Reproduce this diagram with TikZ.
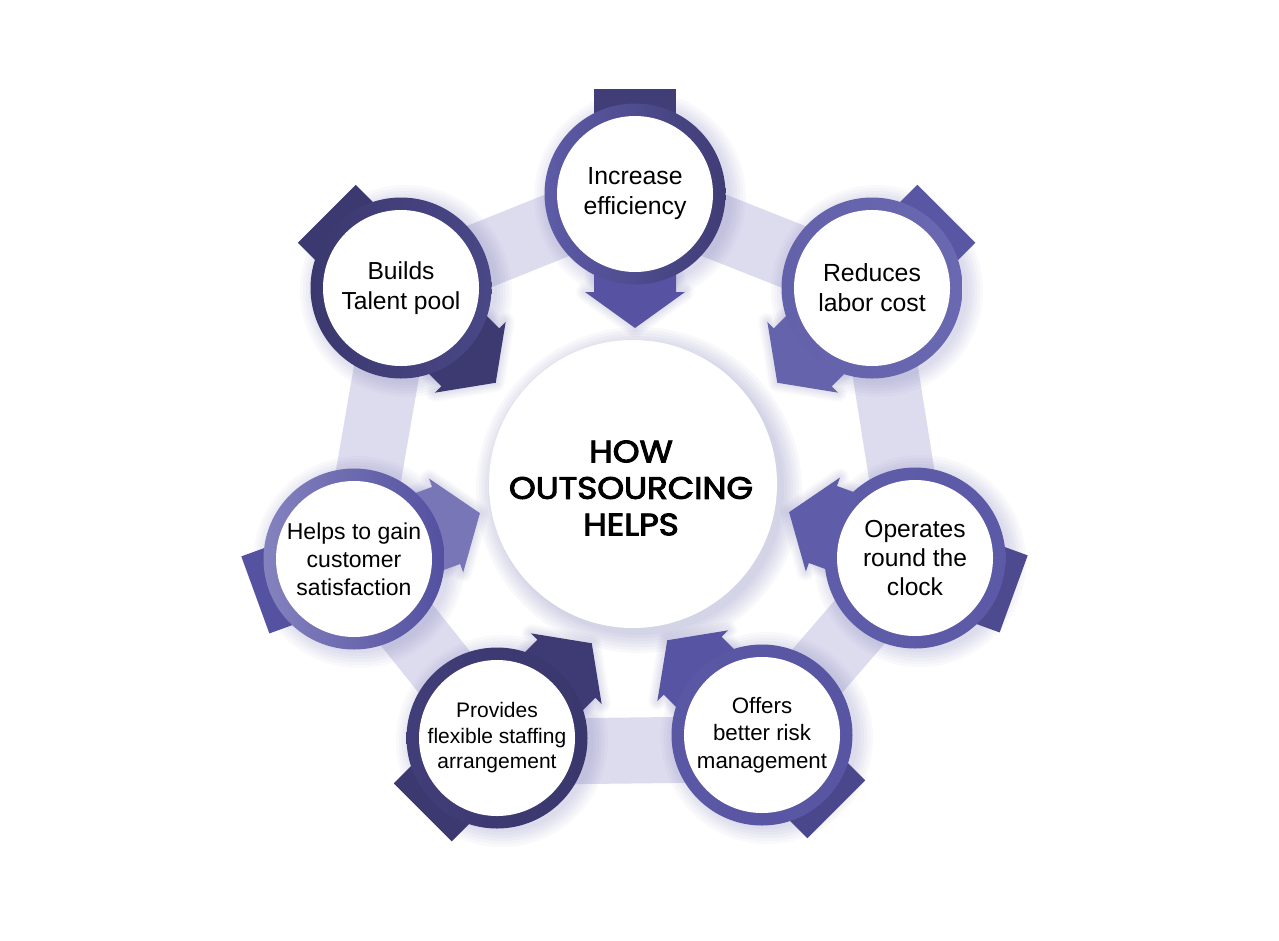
\documentclass[tikz,border=0pt]{standalone}
\usepackage{fontspec}
\setmainfont{Liberation Sans}
\newfontfamily\titlefont{Poppins}[FakeBold=3]
\pgfdeclarelayer{bands}
\pgfdeclarelayer{glow}
\pgfsetlayers{bands,glow,main}
\definecolor{bandc}{HTML}{DDDCEE}
\definecolor{glowc}{HTML}{6A67B0}
% ring colours (left / right)
\definecolor{r1l}{HTML}{5E5BA8}\definecolor{r1r}{HTML}{3F3C75}
\definecolor{r2l}{HTML}{6361AA}\definecolor{r2r}{HTML}{6A68B0}
\definecolor{r3l}{HTML}{5F5CA9}\definecolor{r3r}{HTML}{5C59A6}
\definecolor{r4l}{HTML}{5A57A5}\definecolor{r4r}{HTML}{5855A3}
\definecolor{r5l}{HTML}{403D78}\definecolor{r5r}{HTML}{3A376D}
\definecolor{r6l}{HTML}{8482BE}\definecolor{r6r}{HTML}{5350A0}
\definecolor{r7l}{HTML}{3B386F}\definecolor{r7r}{HTML}{4A4787}
% arrow colours (tail / head)
\definecolor{a1t}{HTML}{403D77}\definecolor{a1h}{HTML}{5753A2}
\definecolor{a2t}{HTML}{5956A3}\definecolor{a2h}{HTML}{6563AC}
\definecolor{a3t}{HTML}{4D4A8F}\definecolor{a3h}{HTML}{5F5CA9}
\definecolor{a4t}{HTML}{4A478C}\definecolor{a4h}{HTML}{5754A3}
\definecolor{a5t}{HTML}{3C3970}\definecolor{a5h}{HTML}{3E3B74}
\definecolor{a6t}{HTML}{5552A1}\definecolor{a6h}{HTML}{7876B6}
\definecolor{a7t}{HTML}{3C3970}\definecolor{a7h}{HTML}{3D3A72}
\tikzset{
  ringnode/.style={circle, inner sep=0pt, minimum size=181pt},
  satlabel/.style={align=center, inner sep=0pt, text=black},
  band/.style={bandc, line width=66pt},
  glowfill/.style={glowc, opacity=0.04},
}
% #1 name, #2 x, #3 y, #4 angle, #5 id, #6 font size, #7 line spacing, #8 text
\newcommand\satellite[8]{%
  \begin{pgfonlayer}{glow}
    \foreach \k in {3,6,...,18}
      \fill[glowfill] (#2+5,#3+3) circle[radius=88pt+\k*1pt];
    \begin{scope}[shift={(#2,#3)}, rotate=#4]
      \foreach \k in {3,6,...,18}
        \draw[glowc, opacity=0.03, line width=\k*1pt, line join=round]
          (70,-41) -- (98,-41) -- (98,-50) -- (134,0) -- (98,50) -- (98,41) -- (70,41);
    \end{scope}
  \end{pgfonlayer}
  \begin{scope}[shift={(#2,#3)}, rotate=#4]
    \fill[a#5t] (-105,-41) rectangle (0,41);
    \fill[a#5h] (0,-41) -- (98,-41) -- (98,-50) -- (134,0) -- (98,50) -- (98,41) -- (0,41) -- cycle;
  \end{scope}
  \node[ringnode, left color=r#5l, right color=r#5r] (#1) at (#2,#3) {};
  \fill[white] (#1.center) circle[radius=78pt];
  \node[satlabel, font=\fontsize{#6}{#7}\selectfont] (#1-label) at (#1.center) {#8};
}
\begin{document}
\begin{tikzpicture}[x=1pt,y=-1pt]
\useasboundingbox (0,0) rectangle (1279,940);
\begin{pgfonlayer}{bands}
  \fill[white] (0,0) rectangle (1279,940);
\end{pgfonlayer}

% hub
\begin{pgfonlayer}{glow}
  \foreach \k in {3,6,...,21}
    \fill[glowc, opacity=0.045] (639,490) circle[radius=142pt+\k*1pt];
\end{pgfonlayer}
\node[circle, fill=white, inner sep=0pt, minimum size=288pt] (hub) at (633,484) {};
\node[align=center, inner sep=0pt, xscale=1.1, transform shape,
      font=\titlefont\fontsize{31}{36.5}\selectfont] (title) at (631,488) {HOW\\OUTSOURCING\\HELPS};

\satellite{s1}{635}{194}{-90}{1}{24.8}{30}{Increase\\efficiency}
\satellite{s2}{872}{288}{-135}{2}{24.8}{30}{Reduces\\labor cost}
\satellite{s3}{915}{558}{160}{3}{24.6}{29}{Operates\\round the\\clock}
\satellite{s4}{762}{735}{135}{4}{22.3}{27.5}{Offers\\better risk\\management}
\satellite{s5}{497}{738}{45}{5}{21}{25.5}{Provides\\flexible staffing\\arrangement}
\satellite{s6}{354}{559}{20}{6}{23}{28}{Helps to gain\\customer\\satisfaction}
\satellite{s7}{401}{288}{-45}{7}{24.6}{30}{Builds\\Talent pool}

\begin{pgfonlayer}{bands}
  \draw[band] (s7.center) -- (s1.center);
  \draw[band] (s1.center) -- (s2.center);
  \draw[band] (s2.center) -- (s3.center);
  \draw[band] (s3.center) -- (s4.center);
  \draw[band] ([yshift=-14pt]s4.center) -- ([yshift=-14pt]s5.center);
  \draw[band] (s5.center) -- (s6.center);
  \draw[band] (s6.center) -- (s7.center);
\end{pgfonlayer}
\end{tikzpicture}
\end{document}
